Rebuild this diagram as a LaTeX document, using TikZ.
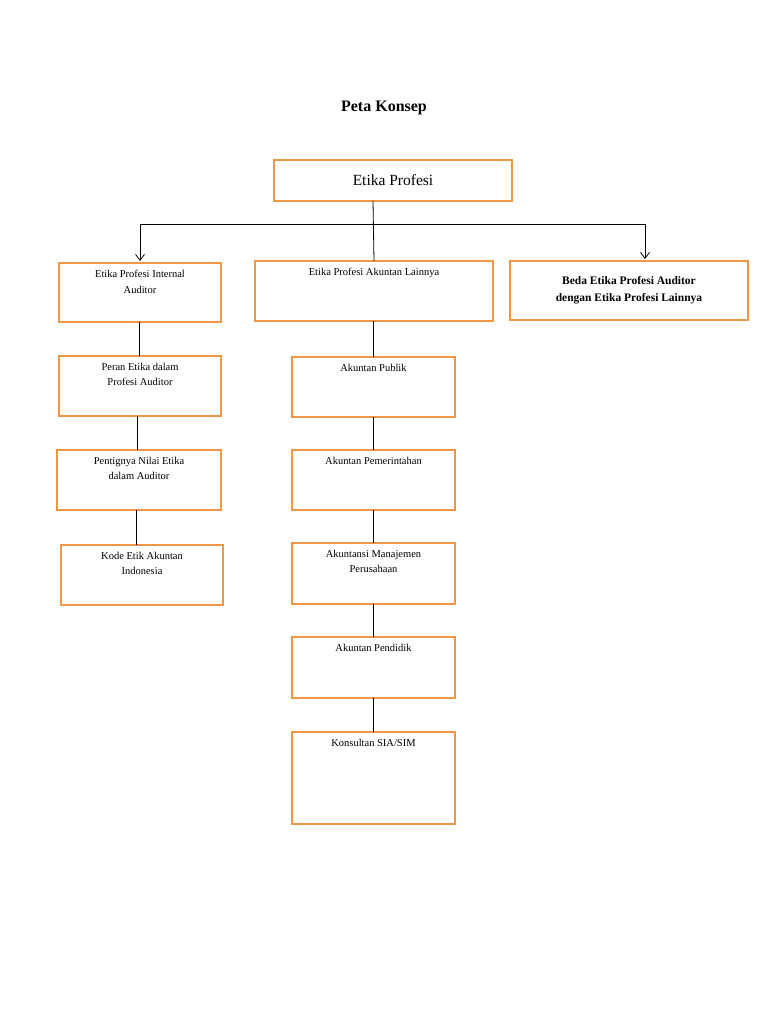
\documentclass[tikz,border=0pt]{standalone}
\usepackage{fontspec}
\setmainfont{Liberation Serif}
\begin{document}
\begin{tikzpicture}[x=1pt,y=-1pt,
 box/.style={draw=boxor,line width=2.2pt},
 lbl/.style={anchor=north,align=center,font=\fontsize{10.5}{15.5}\selectfont,inner sep=0pt},
 ln/.style={line width=0.8pt,black},
 arr/.style={ln,-{Straight Barb[length=6pt,width=9pt]}}]
\usetikzlibrary{arrows.meta}
\definecolor{boxor}{RGB}{240,150,70}
\useasboundingbox (0,0) rectangle (768,1024);
\node[font=\bfseries\fontsize{16}{18}\selectfont] (title) at (384,108) {Peta Konsep};
\newcommand{\bx}[6]{\draw[box] (#2,#3) rectangle (#4,#5); \coordinate (#1t) at ({(#2+#4)/2},#3); \coordinate (#1b) at ({(#2+#4)/2},#5); \node[lbl] (#1) at ({(#2+#4)/2},#3+7) {#6};}
\bx{ep}{274}{160}{512}{201}{}
\node[font=\fontsize{15.5}{18}\selectfont] (eptxt) at (393,180) {Etika Profesi};
\bx{l1}{59}{263}{221}{322}{Etika Profesi Internal\\Auditor}
\bx{l2}{59}{356}{221}{416}{Peran Etika dalam\\Profesi Auditor}
\bx{l3}{57}{450}{221}{510}{Pentignya Nilai Etika\\dalam Auditor}
\bx{l4}{61}{545}{223}{605}{Kode Etik Akuntan\\Indonesia}
\bx{m0}{255}{261}{493}{321}{Etika Profesi Akuntan Lainnya}
\bx{m1}{292}{357}{455}{417}{Akuntan Publik}
\bx{m2}{292}{450}{455}{510}{Akuntan Pemerintahan}
\bx{m3}{292}{543}{455}{604}{Akuntansi Manajemen\\Perusahaan}
\bx{m4}{292}{637}{455}{698}{Akuntan Pendidik}
\bx{m5}{292}{732}{455}{824}{Konsultan SIA/SIM}
\draw[box] (510,261) rectangle (748,320);
\node[align=center,font=\bfseries\fontsize{11.5}{16.5}\selectfont] (r1) at (629,290) {Beda Etika Profesi Auditor\\dengan Etika Profesi Lainnya};
\coordinate (j) at (373,224);
\draw[ln] (373,201) -- (m0t);
\draw[ln] (140,224) -- (645,224);
\draw[arr] (140,224) -- (140,261);
\draw[arr] (645,224) -- (645,259);
\draw[ln] (139,322) -- (139,356);
\draw[ln] (137,416) -- (137,450);
\draw[ln] (136,510) -- (136,545);
\draw[ln] (373,321) -- (373,357);
\draw[ln] (373,417) -- (373,450);
\draw[ln] (373,510) -- (373,543);
\draw[ln] (373,604) -- (373,637);
\draw[ln] (373,698) -- (373,732);
\end{tikzpicture}
\end{document}
